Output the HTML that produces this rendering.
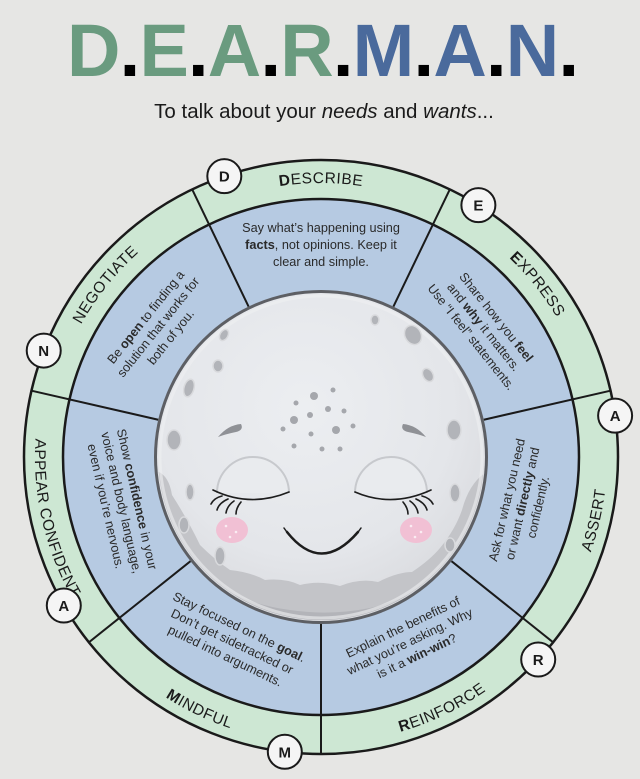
<!DOCTYPE html>
<html><head><meta charset="utf-8"><style>
html,body{margin:0;padding:0;background:#e6e6e4;}
svg{display:block;font-family:"Liberation Sans","DejaVu Sans",sans-serif;}
</style></head><body>
<svg width="640" height="779" viewBox="0 0 640 779" xmlns="http://www.w3.org/2000/svg">
<defs>
<radialGradient id="mg" cx="0.45" cy="0.35" r="0.75">
<stop offset="0" stop-color="#eceef1"/><stop offset="0.6" stop-color="#e4e6ea"/><stop offset="1" stop-color="#d4d5d9"/>
</radialGradient>
<path id="cw" d="M144.9 247.1 A274 274 0 0 1 497.1 247.1"/>
<path id="ccw" d="M137.1 676.1 A286 286 0 0 0 504.9 676.1"/>
<clipPath id="mc"><circle cx="321" cy="457" r="163"/></clipPath>
</defs>
<rect width="640" height="779" fill="#e6e6e4"/>
<text x="67" y="76" font-size="74" font-weight="bold" textLength="512" lengthAdjust="spacing"><tspan fill="#6a9b7f">D</tspan><tspan fill="#000">.</tspan><tspan fill="#6a9b7f">E</tspan><tspan fill="#000">.</tspan><tspan fill="#6a9b7f">A</tspan><tspan fill="#000">.</tspan><tspan fill="#6a9b7f">R</tspan><tspan fill="#000">.</tspan><tspan fill="#4a6a9c">M</tspan><tspan fill="#000">.</tspan><tspan fill="#4a6a9c">A</tspan><tspan fill="#000">.</tspan><tspan fill="#4a6a9c">N</tspan><tspan fill="#000">.</tspan></text>
<text x="324" y="118" font-size="20.5" text-anchor="middle" fill="#1a1a1a">To talk about your <tspan font-style="italic">needs</tspan> and <tspan font-style="italic">wants</tspan>...</text>

<circle cx="321" cy="457" r="297" fill="#cde7d3" stroke="#1a1a1a" stroke-width="2.5"/>
<circle cx="321" cy="457" r="258" fill="#b6cae2" stroke="#1a1a1a" stroke-width="2.5"/>
<g stroke="#1a1a1a" stroke-width="2">
<line x1="321" y1="290" x2="321" y2="160" transform="rotate(-25.7 321 457)"/>
<line x1="321" y1="290" x2="321" y2="160" transform="rotate(25.7 321 457)"/>
<line x1="321" y1="290" x2="321" y2="160" transform="rotate(77.1 321 457)"/>
<line x1="321" y1="290" x2="321" y2="160" transform="rotate(128.6 321 457)"/>
<line x1="321" y1="290" x2="321" y2="160" transform="rotate(180 321 457)"/>
<line x1="321" y1="290" x2="321" y2="160" transform="rotate(231.4 321 457)"/>
<line x1="321" y1="290" x2="321" y2="160" transform="rotate(282.9 321 457)"/>
</g>

<g font-size="15.5" fill="#1a1a1a" letter-spacing="0.5">
<text><textPath href="#cw" startOffset="50%" text-anchor="middle"><tspan font-weight="bold">D</tspan>ESCRIBE</textPath></text>
<g transform="rotate(51.4 321 457)"><text><textPath href="#cw" startOffset="50%" text-anchor="middle"><tspan font-weight="bold">E</tspan>XPRESS</textPath></text></g>
<g transform="rotate(-51.4 321 457)"><text><textPath href="#cw" startOffset="50%" text-anchor="middle">NEGOTIATE</textPath></text></g>
<g transform="rotate(-77 321 457)"><text><textPath href="#ccw" startOffset="50%" text-anchor="middle">ASSERT</textPath></text></g>
<g transform="rotate(-25.7 321 457)"><text><textPath href="#ccw" startOffset="50%" text-anchor="middle"><tspan font-weight="bold">R</tspan>EINFORCE</textPath></text></g>
<g transform="rotate(25.7 321 457)"><text><textPath href="#ccw" startOffset="50%" text-anchor="middle"><tspan font-weight="bold">M</tspan>INDFUL</textPath></text></g>
<g transform="rotate(77.1 321 457)"><text><textPath href="#ccw" startOffset="50%" text-anchor="middle">APPEAR CONFIDENT</textPath></text></g>
</g>

<g font-size="12.7" fill="#2a2a2a" text-anchor="middle">
<text x="321" y="232"><tspan x="321">Say what’s happening using</tspan><tspan x="321" dy="17"><tspan font-weight="bold">facts</tspan>, not opinions. Keep it</tspan><tspan x="321" dy="17">clear and simple.</tspan></text>
<g transform="rotate(51.4 321 457)"><text x="321" y="237"><tspan x="321">Share how you <tspan font-weight="bold">feel</tspan></tspan><tspan x="321" dy="16">and <tspan font-weight="bold">why</tspan> it matters.</tspan><tspan x="321" dy="16">Use “I feel” statements.</tspan></text></g>
<g transform="rotate(-51.4 321 457)"><text x="321" y="237"><tspan x="321">Be <tspan font-weight="bold">open</tspan> to finding a</tspan><tspan x="321" dy="16">solution that works for</tspan><tspan x="321" dy="16">both of you.</tspan></text></g>
<g transform="rotate(-77 321 457)"><text x="321" y="652"><tspan x="321">Ask for what you need</tspan><tspan x="321" dy="16">or want <tspan font-weight="bold">directly</tspan> and</tspan><tspan x="321" dy="16">confidently.</tspan></text></g>
<g transform="rotate(-25.7 321 457)"><text x="321" y="650"><tspan x="321">Explain the benefits of</tspan><tspan x="321" dy="16">what you’re asking. Why</tspan><tspan x="321" dy="16">is it a <tspan font-weight="bold">win-win</tspan>?</tspan></text></g>
<g transform="rotate(25.7 321 457)"><text x="321" y="650"><tspan x="321">Stay focused on the <tspan font-weight="bold">goal</tspan>.</tspan><tspan x="321" dy="16">Don’t get sidetracked or</tspan><tspan x="321" dy="16">pulled into arguments.</tspan></text></g>
<g transform="rotate(77.1 321 457)"><text x="321" y="650"><tspan x="321">Show <tspan font-weight="bold">confidence</tspan> in your</tspan><tspan x="321" dy="16">voice and body language,</tspan><tspan x="321" dy="16">even if you’re nervous.</tspan></text></g>
</g>

<circle cx="321" cy="457" r="167" fill="#5d5f64"/>
<circle cx="321" cy="457" r="164" fill="url(#mg)"/>
<g clip-path="url(#mc)">
<path d="M150 470 Q168 470 172 495 Q188 520 200 545 Q215 560 230 570 Q250 572 265 580 Q285 578 300 585 Q320 580 340 586 Q360 578 378 582 Q398 572 412 572 Q430 560 440 548 Q455 530 462 510 Q470 480 490 470 L490 640 L150 640 Z" fill="#c3c4c8"/>
<path d="M155 515 Q180 560 215 585 Q250 605 290 610 Q330 616 370 608 Q420 596 450 565 Q472 538 488 515 L488 640 L155 640Z" fill="#b3b4b9"/>
<circle cx="321" cy="457" r="161" fill="none" stroke="#eef0f2" stroke-width="3" opacity="0.6"/>
</g>
<g fill="#b2b4b9" stroke="#d9dadd" stroke-width="1.5">
<ellipse cx="375" cy="320" rx="4" ry="5"/>
<ellipse cx="413" cy="335" rx="8" ry="10" transform="rotate(-30 413 335)"/>
<ellipse cx="428" cy="375" rx="5" ry="7" transform="rotate(-30 428 375)"/>
<ellipse cx="454" cy="430" rx="7" ry="10"/>
<ellipse cx="455" cy="493" rx="5" ry="9"/>
<ellipse cx="450" cy="545" rx="5" ry="7"/>
<ellipse cx="224" cy="335" rx="4" ry="6" transform="rotate(30 224 335)"/>
<ellipse cx="218" cy="366" rx="5" ry="6"/>
<ellipse cx="189" cy="388" rx="5" ry="9" transform="rotate(15 189 388)"/>
<ellipse cx="174" cy="440" rx="7" ry="10"/>
<ellipse cx="190" cy="492" rx="4" ry="8"/>
<ellipse cx="184" cy="525" rx="5" ry="8"/>
<ellipse cx="220" cy="556" rx="5" ry="9"/>
</g>
<g fill="#a5a7ac">
<circle cx="314" cy="396" r="4"/><circle cx="333" cy="390" r="2.5"/><circle cx="296" cy="403" r="2.5"/><circle cx="310" cy="415" r="3"/><circle cx="328" cy="409" r="3"/><circle cx="344" cy="411" r="2.5"/><circle cx="294" cy="420" r="4"/><circle cx="283" cy="429" r="2.5"/><circle cx="311" cy="434" r="2.5"/><circle cx="336" cy="430" r="4"/><circle cx="353" cy="426" r="2.5"/><circle cx="294" cy="446" r="2.5"/><circle cx="322" cy="449" r="2.5"/><circle cx="340" cy="449" r="2.5"/>
<path d="M218 437 Q228 425 241 424 Q244 430 236 432 Q226 434 218 437Z" fill="#8f9196"/>
<path d="M426 437 Q416 425 403 424 Q400 430 408 432 Q418 434 426 437Z" fill="#8f9196"/>
</g>
<path d="M217 493 A35 35 0 0 1 289 493" fill="#e9ebee" stroke="#c7c9cd" stroke-width="2"/>
<path d="M355 493 A35 35 0 0 1 427 493" fill="#e9ebee" stroke="#c7c9cd" stroke-width="2"/>
<g fill="none" stroke="#1d1d1d" stroke-width="1.6" stroke-linecap="round">
<path d="M213 490 Q250 508 289 492"/>
<path d="M355 492 Q392 508 431 490"/>
<path d="M222 496 Q214 498 211 504 M228 499 Q219 503 217 510 M234 501 Q227 506 226 513 M241 502 Q236 508 236 514"/>
<path d="M422 496 Q430 498 433 504 M416 499 Q425 503 427 510 M410 501 Q417 506 418 513 M403 502 Q408 508 408 514"/>
<path d="M287 532 Q321 575 358 532" stroke-width="2.5"/>
<path d="M284 528 L289 535 M361 528 L356 535" stroke-width="1.5"/>
</g>
<ellipse cx="232" cy="530" rx="16" ry="13" fill="#f1c0d4"/>
<ellipse cx="416" cy="530" rx="16" ry="13" fill="#f1c0d4"/>
<g fill="#fff" opacity="0.7"><circle cx="226" cy="526" r="1.3"/><circle cx="236" cy="532" r="1.3"/><circle cx="230" cy="537" r="1.3"/><circle cx="411" cy="526" r="1.3"/><circle cx="421" cy="532" r="1.3"/><circle cx="415" cy="537" r="1.3"/></g>

<g font-size="15" font-weight="bold" text-anchor="middle" fill="#1a1a1a">
<g transform="rotate(-19 321 457)"><g transform="translate(321 160) rotate(19)"><circle r="17" fill="#f5f5f5" stroke="#1a1a1a" stroke-width="2"/><text y="5.5">D</text></g></g>
<g transform="rotate(32 321 457)"><g transform="translate(321 160) rotate(-32)"><circle r="17" fill="#f5f5f5" stroke="#1a1a1a" stroke-width="2"/><text y="5.5">E</text></g></g>
<g transform="rotate(82 321 457)"><g transform="translate(321 160) rotate(-82)"><circle r="17" fill="#f5f5f5" stroke="#1a1a1a" stroke-width="2"/><text y="5.5">A</text></g></g>
<g transform="rotate(133 321 457)"><g transform="translate(321 160) rotate(-133)"><circle r="17" fill="#f5f5f5" stroke="#1a1a1a" stroke-width="2"/><text y="5.5">R</text></g></g>
<g transform="rotate(187 321 457)"><g transform="translate(321 160) rotate(-187)"><circle r="17" fill="#f5f5f5" stroke="#1a1a1a" stroke-width="2"/><text y="5.5">M</text></g></g>
<g transform="rotate(240 321 457)"><g transform="translate(321 160) rotate(-240)"><circle r="17" fill="#f5f5f5" stroke="#1a1a1a" stroke-width="2"/><text y="5.5">A</text></g></g>
<g transform="rotate(291 321 457)"><g transform="translate(321 160) rotate(-291)"><circle r="17" fill="#f5f5f5" stroke="#1a1a1a" stroke-width="2"/><text y="5.5">N</text></g></g>
</g>
</svg>
</body></html>
